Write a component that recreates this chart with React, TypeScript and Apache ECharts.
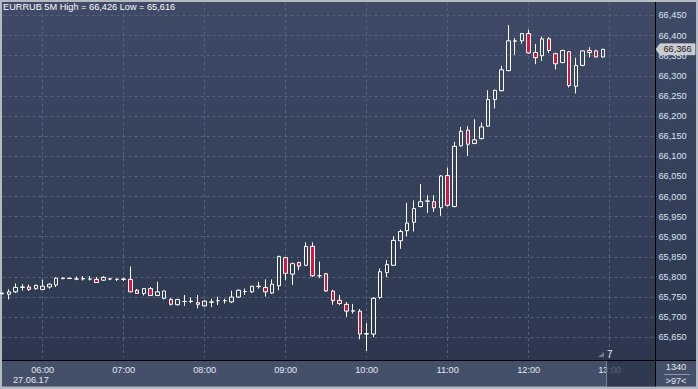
import React, { useEffect, useRef } from "react";
import * as echarts from "echarts";

// time index: 0 = 06:00, each step = 5 minutes
const times: number[] = [
  -6, -5, -4, -3, -2, -1, 0, 1, 2, 3, 4, 5, 6, 7, 8, 9, 10, 11, 12, 13, 14, 15, 16, 17, 18, 19,
  20, 21, 22, 23, 24, 25, 26, 27, 28, 29, 30, 31, 32, 33, 34, 35, 36, 37, 38, 39, 40, 41, 42,
  43, 44, 45, 46, 47, 48, 49, 50, 51, 52, 53, 54, 55, 56, 57, 58, 59, 60, 61, 62, 63, 64, 65,
  66, 67, 68, 69, 70, 71, 72, 73, 74, 75, 76, 77, 78, 79, 80, 81, 82, 83,
];
const opens: number[] = [
  65758, 65757, 65763, 65774, 65775, 65771, 65769, 65775, 65780, 65796, 65796, 65795, 65795, 65795,
  65794, 65792, 65795, 65794, 65794, 65794, 65767, 65759, 65771, 65754, 65747, 65744, 65731, 65739,
  65739, 65736, 65728, 65737, 65741, 65741, 65738, 65750, 65764, 65763, 65776, 65774, 65760, 65778,
  65848, 65807, 65836, 65829, 65876, 65803, 65808, 65765, 65742, 65732, 65715, 65715, 65658, 65658,
  65749, 65811, 65829, 65890, 65915, 65936, 65975, 65988, 65987, 65972, 66052, 65975, 66126, 66165,
  66132, 66144, 66175, 66241, 66263, 66313, 66386, 66387, 66405, 66358, 66350, 66392, 66355, 66333,
  66360, 66274, 66326, 66363, 66362, 66347,
];
const closes: number[] = [
  65760, 65763, 65774, 65775, 65769, 65779, 65777, 65782, 65797, 65797, 65797, 65795, 65796, 65795,
  65786, 65799, 65795, 65794, 65795, 65763, 65759, 65771, 65754, 65763, 65765, 65732, 65744, 65739,
  65740, 65732, 65740, 65738, 65741, 65741, 65750, 65767, 65764, 65777, 65777, 65763, 65782, 65851,
  65809, 65833, 65827, 65876, 65803, 65803, 65765, 65741, 65734, 65715, 65716, 65658, 65659, 65747,
  65813, 65831, 65891, 65913, 65934, 65970, 65987, 65989, 65972, 66051, 65978, 66125, 66162, 66130,
  66141, 66173, 66241, 66264, 66315, 66387, 66387, 66405, 66357, 66345, 66392, 66363, 66330, 66363,
  66276, 66326, 66362, 66358, 66347, 66366,
];
const lows: number[] = [
  65757, 65744, 65760, 65766, 65765, 65768, 65767, 65771, 65775, 65794, 65795, 65792, 65791, 65791,
  65785, 65790, 65792, 65790, 65790, 65762, 65759, 65754, 65753, 65752, 65744, 65729, 65729, 65728,
  65735, 65722, 65726, 65725, 65730, 65734, 65735, 65748, 65755, 65760, 65771, 65751, 65758, 65767,
  65792, 65780, 65817, 65828, 65800, 65797, 65763, 65731, 65730, 65701, 65709, 65645, 65616, 65650,
  65745, 65799, 65828, 65870, 65901, 65913, 65973, 65959, 65962, 65952, 65975, 65973, 66124, 66101,
  66130, 66142, 66173, 66219, 66261, 66311, 66352, 66380, 66355, 66329, 66337, 66356, 66316, 66331,
  66271, 66256, 66324, 66346, 66346, 66345,
];
const highs: number[] = [
  65761, 65769, 65784, 65782, 65781, 65781, 65793, 65784, 65799, 65799, 65798, 65801, 65802, 65802,
  65800, 65802, 65798, 65797, 65798, 65826, 65770, 65772, 65775, 65788, 65766, 65748, 65745, 65755,
  65749, 65755, 65742, 65746, 65751, 65746, 65766, 65769, 65771, 65778, 65788, 65794, 65794, 65853,
  65850, 65836, 65838, 65886, 65886, 65838, 65810, 65768, 65755, 65738, 65733, 65720, 65685, 65750,
  65821, 65842, 65901, 65918, 65984, 65990, 66031, 66003, 66003, 66053, 66072, 66136, 66173, 66175,
  66192, 66184, 66264, 66266, 66325, 66426, 66394, 66406, 66415, 66379, 66398, 66396, 66358, 66365,
  66362, 66345, 66363, 66371, 66365, 66367,
];

const symbolName = "EURRUB";
const periodName = "5M";
const dateLabel = "27.06.17";
const volumeLabel = "1340";
const countLabel = ">97<";
const cornerLabel = "7";

const FONT = "'Liberation Sans', Arial, sans-serif";

function fmtPrice(v: number): string {
  const r = Math.round(v);
  const th = Math.floor(r / 1000);
  const rest = String(r % 1000).padStart(3, "0");
  return `${th},${rest}`;
}
function fmtTime(v: number): string {
  const m = 360 + Math.round(v) * 5;
  const hh = Math.floor(m / 60);
  const mm = m % 60;
  return `${String(hh).padStart(2, "0")}:${String(mm).padStart(2, "0")}`;
}

export default function App() {
  const ref = useRef<HTMLDivElement>(null);
  useEffect(() => {
    document.body.style.margin = "0";
    if (!ref.current) return;
    const chart = echarts.init(ref.current, undefined, { renderer: "svg" });
    const data = times.map((t, i) => [t, opens[i], closes[i], lows[i], highs[i]]);
    const hi = Math.max(...highs);
    const lo = Math.min(...lows);
    const last = closes[closes.length - 1];
    const xMin = -5.96;
    const xMax = 90.79;
    const bgGrad = new echarts.graphic.LinearGradient(0, 0, 0, 1, [
      { offset: 0, color: "#3e4a66" },
      { offset: 1, color: "#2c374f" },
    ]);
    const grid = "#56627d";
    chart.setOption({
      animation: false,
      title: {
        text: `${symbolName} ${periodName} High = ${fmtPrice(hi)} Low = ${fmtPrice(lo)}`,
        left: 3,
        top: 2,
        padding: 0,
        textStyle: { color: "#ffffff", fontSize: 9.2, fontWeight: "normal", fontFamily: FONT },
      },
      grid: { left: 2.5, right: 42.5, top: 2, bottom: 31.6, containLabel: false },
      xAxis: {
        type: "value",
        min: xMin,
        max: xMax,
        minInterval: 12,
        maxInterval: 12,
        axisLine: { show: false },
        axisTick: { show: false },
        axisLabel: {
          color: "#e2e8f0",
          fontSize: 9.2,
          fontFamily: FONT,
          margin: 7.6,
          showMinLabel: false,
          showMaxLabel: false,
          formatter: (v: number) => fmtTime(v),
        },
        splitLine: {
          show: true,
          showMinLine: false,
          showMaxLine: false,
          lineStyle: { color: grid, type: [3, 3], width: 1 },
        },
      },
      yAxis: {
        type: "value",
        position: "right",
        min: 65600,
        max: 66483.56,
        minInterval: 50,
        maxInterval: 50,
        scale: true,
        axisLine: { show: false },
        axisTick: { show: false },
        axisLabel: {
          color: "#dbe5f2",
          fontSize: 9.2,
          fontFamily: FONT,
          margin: 3,
          showMinLabel: false,
          showMaxLabel: false,
          formatter: (v: number) => fmtPrice(v),
        },
        splitLine: {
          show: true,
          showMinLine: false,
          showMaxLine: false,
          lineStyle: { color: grid, type: [3, 3], width: 1 },
        },
      },
      series: [
        {
          type: "candlestick",
          data,
          encode: { x: 0, y: [1, 2, 3, 4] },
          barWidth: 4,
          clip: true,
          itemStyle: {
            color: "rgba(0,0,0,0)",
            color0: "#dc143c",
            borderColor: "#ffffff",
            borderColor0: "#ffffff",
            borderWidth: 1,
          },
          markPoint: {
            symbol: "path://M0 5.5L4 0L39 0L39 11L4 11Z",
            symbolSize: [39, 11],
            symbolKeepAspect: false,
            symbolOffset: [20, 0],
            itemStyle: { color: "#c9cbcf", borderColor: "#e8e8e8", borderWidth: 0.5 },
            label: {
              show: true,
              position: "inside",
              offset: [2, 0],
              color: "#1a1a1a",
              fontSize: 9.2,
              fontFamily: FONT,
              formatter: () => fmtPrice(last),
            },
            data: [{ coord: [xMax, last], value: last }],
          },
        },
      ],
      graphic: [
        {
          type: "rect",
          z: -10,
          shape: { x: 0, y: 0, width: 698, height: 389 },
          style: { fill: "#b4b9c2" },
        },
        {
          type: "rect",
          z: -9,
          shape: { x: 2, y: 2, width: 694, height: 358 },
          style: { fill: bgGrad },
        },
        {
          type: "rect",
          z: -9,
          shape: { x: 2, y: 360, width: 694, height: 26.5 },
          style: { fill: "#44506a" },
        },
        {
          type: "rect",
          z: 10,
          shape: { x: 607, y: 361, width: 48, height: 25.5 },
          style: { fill: "rgba(40,50,72,0.75)" },
        },
        {
          type: "line",
          z: 10,
          shape: { x1: 606.5, y1: 361, x2: 606.5, y2: 386.5 },
          style: { stroke: "#7a8294", lineWidth: 1 },
        },
        {
          type: "line",
          z: 10,
          shape: { x1: 2, y1: 360.5, x2: 696, y2: 360.5 },
          style: { stroke: "#000000", lineWidth: 1 },
        },
        {
          type: "line",
          z: 10,
          shape: { x1: 655.5, y1: 2, x2: 655.5, y2: 386.5 },
          style: { stroke: "#000000", lineWidth: 1 },
        },
        {
          type: "polygon",
          z: 10,
          shape: { points: [[598, 357], [604, 352], [604, 357]] },
          style: { fill: "#6f7890" },
        },
        {
          type: "text",
          z: 10,
          x: 607,
          y: 349,
          style: { text: cornerLabel, fill: "#e2e8f0", fontSize: 10, fontFamily: FONT },
        },
        {
          type: "text",
          z: 10,
          x: 13,
          y: 375,
          style: { text: dateLabel, fill: "#e2e8f0", fontSize: 9.2, fontFamily: FONT },
        },
        {
          type: "text",
          z: 10,
          x: 676,
          y: 362,
          style: { text: volumeLabel, fill: "#e2e8f0", fontSize: 9.2, fontFamily: FONT, align: "center" },
        },
        {
          type: "line",
          z: 10,
          shape: { x1: 664, y1: 374.5, x2: 690, y2: 374.5 },
          style: { stroke: "#8e96a6", lineWidth: 1 },
        },
        {
          type: "text",
          z: 10,
          x: 676,
          y: 376,
          style: { text: countLabel, fill: "#e2e8f0", fontSize: 9.2, fontFamily: FONT, align: "center" },
        },
      ],
    });
    return () => chart.dispose();
  }, []);
  return <div ref={ref} style={{ width: 698, height: 389 }} />;
}
